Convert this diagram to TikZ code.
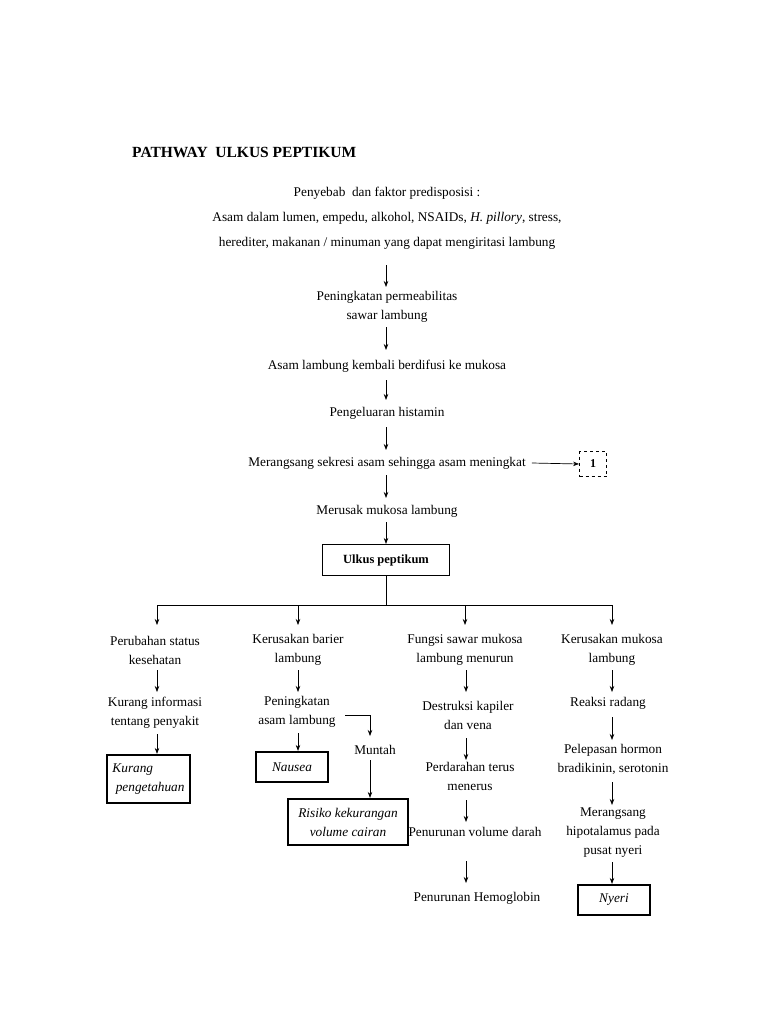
\documentclass[tikz,border=0pt]{standalone}
\usepackage{fontspec}
\setmainfont{Liberation Serif}
\usetikzlibrary{arrows.meta}
\begin{document}
\begin{tikzpicture}[x=1pt,y=-1pt,
  every node/.style={font=\fontsize{13.3}{19}\selectfont,align=center,inner sep=0},
  ar/.style={-{Stealth[length=6pt,width=4.5pt]},line width=0.7pt},
  ln/.style={line width=0.7pt},
  bx/.style={draw,line width=2.2pt,font=\fontsize{13.3}{19}\selectfont\itshape}]
\useasboundingbox (0,0) rectangle (768,1024);
\node[font=\fontsize{15.5}{18}\selectfont\bfseries,anchor=west] (t) at (132,152) {PATHWAY\ \ ULKUS PEPTIKUM};
\node[font=\fontsize{13.3}{25}\selectfont] (c) at (387,218) {Penyebab\ \ dan faktor predisposisi :\\Asam dalam lumen, empedu, alkohol, NSAIDs, \textit{H. pillory}, stress,\\herediter, makanan / minuman yang dapat mengiritasi lambung};
\coordinate (a0) at (386,265);
\node (p1) at (387,307) {Peningkatan permeabilitas\\sawar lambung};
\node (p2) at (387,366) {Asam lambung kembali berdifusi ke mukosa};
\node (p3) at (387,413) {Pengeluaran histamin};
\node (p4) at (387,463) {Merangsang sekresi asam sehingga asam meningkat};
\node[draw,dashed,line width=0.9pt,minimum width=27pt,minimum height=25pt,font=\fontsize{12}{14}\selectfont\bfseries] (one) at (593,464) {1};
\node (p5) at (387,511) {Merusak mukosa lambung};
\node[draw,line width=1.1pt,minimum width=127pt,minimum height=31pt,font=\fontsize{12.5}{14}\selectfont\bfseries] (u) at (386,560) {Ulkus peptikum};
\draw[ar] (a0) -- (386,287);
\draw[ar] (386,327) -- (386,350);
\draw[ar] (386,380) -- (386,400);
\draw[ar] (386,427) -- (386,450);
\draw[ar] (386,475) -- (386,498);
\draw[ar] (386,522) -- (u.north);
\draw[ar] (p4.east) ++(6,0) -- (one.west);
\coordinate (h) at (386,605);
\draw[ln] (u.south) -- (h);
\draw[ln] (157,605) -- (612,605);
\foreach \x in {157,298,465,612} \draw[ar] (\x,605) -- (\x,625);
% column 1
\node (k1) at (155,650) {Perubahan status\\kesehatan};
\node (k2) at (155,713) {Kurang informasi\\tentang penyakit};
\node[bx,minimum width=83pt,minimum height=48pt,align=left] (k3) at (148.5,779) {Kurang\\\ pengetahuan};
\draw[ar] (157,670) -- (157,692);
\draw[ar] (157,734) -- (k3.north -| 157,0);
% column 2
\node (b1) at (298,650) {Kerusakan barier\\lambung};
\node (b2) at (297,712) {Peningkatan\\asam lambung};
\node[bx,minimum width=72pt,minimum height=30pt] (b3) at (292,767) {Nausea};
\node (m) at (375,750) {Muntah};
\node[bx,minimum width=120pt,minimum height=46pt] (b4) at (348,822) {Risiko kekurangan\\volume cairan};
\draw[ar] (298,670) -- (298,692);
\draw[ar] (298,733) -- (b3.north -| 298,0);
\draw[ar] (345,715) -- (370,715) -- (370,736);
\draw[ar] (370,760) -- (b4.north -| 370,0);
% column 3
\node (f1) at (465,650) {Fungsi sawar mukosa\\lambung menurun};
\node (f2) at (468,715) {Destruksi kapiler\\dan vena};
\node (f3) at (470,776) {Perdarahan terus\\menerus};
\node (f4) at (475,832) {Penurunan volume darah};
\node (f5) at (477,898) {Penurunan Hemoglobin};
\draw[ar] (466,670) -- (466,692);
\draw[ar] (466,738) -- (466,760);
\draw[ar] (466,800) -- (466,822);
\draw[ar] (466,861) -- (466,883);
% column 4
\node (r1) at (612,650) {Kerusakan mukosa\\lambung};
\node (r2) at (608,703) {Reaksi radang};
\node (r3) at (613,759) {Pelepasan hormon\\bradikinin, serotonin};
\node (r4) at (613,833) {Merangsang\\hipotalamus pada\\pusat nyeri};
\node[bx,minimum width=72pt,minimum height=30pt] (r5) at (614,900) {Nyeri};
\draw[ar] (612,670) -- (612,692);
\draw[ar] (612,717) -- (612,740);
\draw[ar] (612,782) -- (612,805);
\draw[ar] (612,862) -- (r5.north -| 612,0);
\end{tikzpicture}
\end{document}
